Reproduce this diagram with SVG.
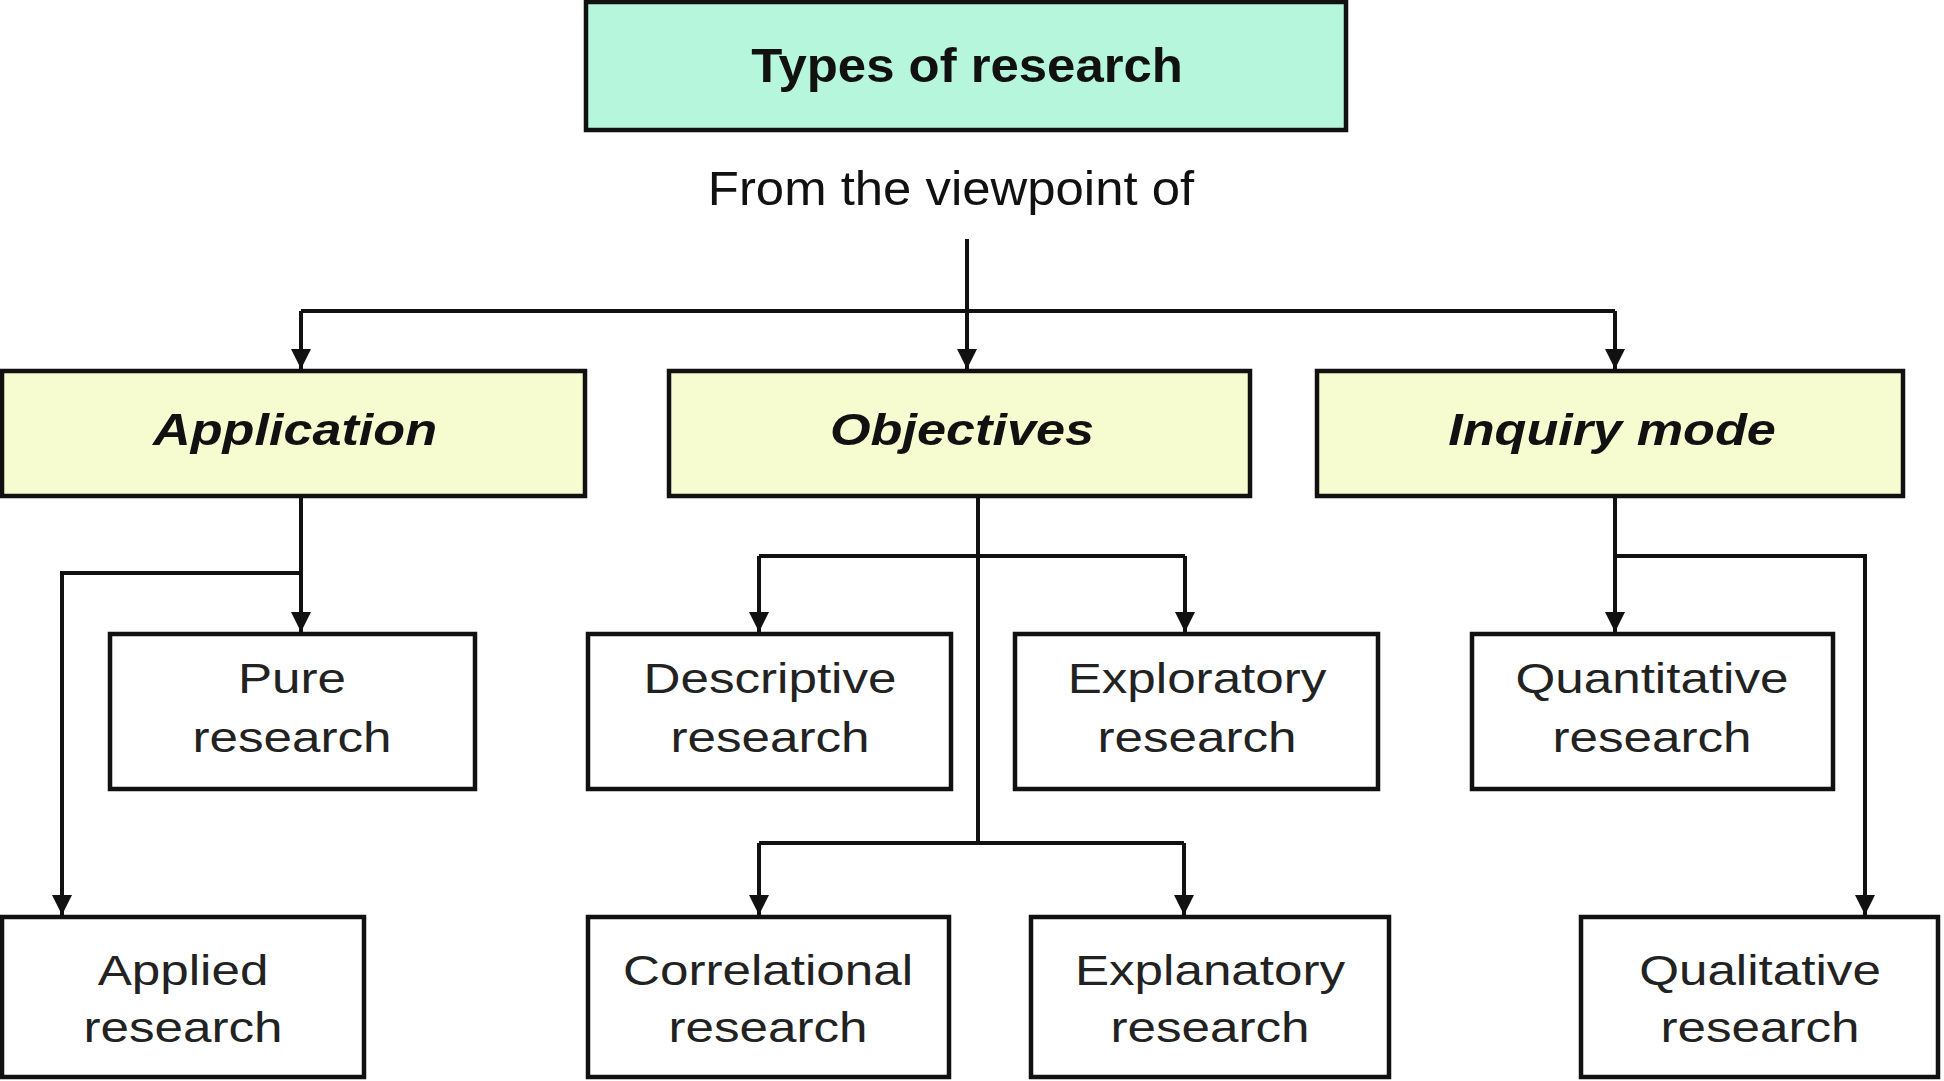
<svg xmlns="http://www.w3.org/2000/svg" width="1944" height="1081" viewBox="0 0 1944 1081">
<style>
.box{fill:#ffffff;stroke:#111;stroke-width:4.5}
.top{fill:#b6f6dd;stroke:#111;stroke-width:4.5}
.cat{fill:#f6fbd0;stroke:#111;stroke-width:4.5}
.ln{fill:none;stroke:#111;stroke-width:4}
.title{font-family:"Liberation Sans",Arial,sans-serif;font-weight:bold;font-size:48px;fill:#111;text-anchor:middle}
.sub{font-family:"Liberation Sans",Arial,sans-serif;font-size:48px;fill:#111;text-anchor:middle}
.catt{font-family:"Liberation Sans",Arial,sans-serif;font-weight:bold;font-style:italic;font-size:45px;fill:#111;text-anchor:middle}
.lbl{font-family:"Liberation Sans",Arial,sans-serif;font-size:43px;fill:#222;text-anchor:middle}
</style>
<defs>
<marker id="arr" markerUnits="userSpaceOnUse" markerWidth="20" markerHeight="20" refX="20" refY="10" orient="auto">
<path d="M0,0 L20,10 L0,20 z" fill="#111"/>
</marker>
</defs>
<rect width="1944" height="1081" fill="#ffffff"/>
<g id="connectors">
<path class="ln" d="M967,239 V369" marker-end="url(#arr)"/>
<path class="ln" d="M301,311 H1615"/>
<path class="ln" d="M301,311 V369" marker-end="url(#arr)"/>
<path class="ln" d="M1615,311 V369" marker-end="url(#arr)"/>
<path class="ln" d="M301,498 V632" marker-end="url(#arr)"/>
<path class="ln" d="M301,573 H62 V915" marker-end="url(#arr)"/>
<path class="ln" d="M978,498 V843"/>
<path class="ln" d="M759,556 H1185"/>
<path class="ln" d="M759,556 V632" marker-end="url(#arr)"/>
<path class="ln" d="M1185,556 V632" marker-end="url(#arr)"/>
<path class="ln" d="M759,843 H1184"/>
<path class="ln" d="M759,843 V915" marker-end="url(#arr)"/>
<path class="ln" d="M1184,843 V915" marker-end="url(#arr)"/>
<path class="ln" d="M1615,498 V632" marker-end="url(#arr)"/>
<path class="ln" d="M1615,556 H1865 V915" marker-end="url(#arr)"/>
</g>
<g id="types">
<rect class="top" x="586" y="2" width="760" height="128"/>
<text class="title" transform="translate(967 0) scale(1.06 1)" x="0" y="82">Types of research</text>
</g>
<g id="viewpoint">
<text class="sub" transform="translate(951 0) scale(1.06 1)" x="0" y="205">From the viewpoint of</text>
</g>
<g id="application">
<rect class="cat" x="2" y="371" width="583" height="125"/>
<text class="catt" transform="translate(295 0) scale(1.16 1)" x="0" y="445">Application</text>
</g>
<g id="objectives">
<rect class="cat" x="669" y="371" width="581" height="125"/>
<text class="catt" transform="translate(962 0) scale(1.16 1)" x="0" y="445">Objectives</text>
</g>
<g id="inquiry">
<rect class="cat" x="1317" y="371" width="586" height="125"/>
<text class="catt" transform="translate(1612 0) scale(1.16 1)" x="0" y="445">Inquiry mode</text>
</g>
<g id="pure">
<rect class="box" x="110" y="634" width="365" height="155"/>
<text class="lbl" transform="translate(292 0) scale(1.19 1)"><tspan x="0" y="693">Pure</tspan><tspan x="0" y="752">research</tspan></text>
</g>
<g id="descriptive">
<rect class="box" x="588" y="634" width="363" height="155"/>
<text class="lbl" transform="translate(770 0) scale(1.19 1)"><tspan x="0" y="693">Descriptive</tspan><tspan x="0" y="752">research</tspan></text>
</g>
<g id="exploratory">
<rect class="box" x="1015" y="634" width="363" height="155"/>
<text class="lbl" transform="translate(1197 0) scale(1.19 1)"><tspan x="0" y="693">Exploratory</tspan><tspan x="0" y="752">research</tspan></text>
</g>
<g id="quantitative">
<rect class="box" x="1472" y="634" width="361" height="155"/>
<text class="lbl" transform="translate(1652 0) scale(1.19 1)"><tspan x="0" y="693">Quantitative</tspan><tspan x="0" y="752">research</tspan></text>
</g>
<g id="applied">
<rect class="box" x="2" y="917" width="362" height="160"/>
<text class="lbl" transform="translate(183 0) scale(1.19 1)"><tspan x="0" y="985">Applied</tspan><tspan x="0" y="1042">research</tspan></text>
</g>
<g id="correlational">
<rect class="box" x="588" y="917" width="361" height="160"/>
<text class="lbl" transform="translate(768 0) scale(1.19 1)"><tspan x="0" y="985">Correlational</tspan><tspan x="0" y="1042">research</tspan></text>
</g>
<g id="explanatory">
<rect class="box" x="1031" y="917" width="358" height="160"/>
<text class="lbl" transform="translate(1210 0) scale(1.19 1)"><tspan x="0" y="985">Explanatory</tspan><tspan x="0" y="1042">research</tspan></text>
</g>
<g id="qualitative">
<rect class="box" x="1581" y="917" width="357" height="160"/>
<text class="lbl" transform="translate(1760 0) scale(1.19 1)"><tspan x="0" y="985">Qualitative</tspan><tspan x="0" y="1042">research</tspan></text>
</g>
</svg>
